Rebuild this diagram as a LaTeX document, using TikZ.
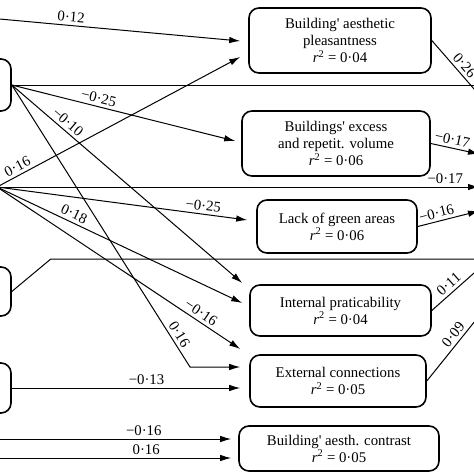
\documentclass[tikz,border=0pt]{standalone}
\usepackage{fontspec}
\newfontfamily\pathfont{Liberation Serif}
\usetikzlibrary{arrows.meta}

\begin{document}
\begin{tikzpicture}[x=1pt,y=-1pt,line width=1pt,>={Latex[length=11pt,width=6.5pt]},
  every node/.style={font=\pathfont\fontsize{14.8}{17}\selectfont},
  var/.style={draw,line width=1.6pt,rounded corners=10pt,align=center,inner sep=0pt},
  coef/.style={sloped,above,inner sep=3pt}]
\useasboundingbox (0,0) rectangle (474,474);
\clip (0,0) rectangle (474,474);

\node[var,minimum width=100,minimum height=52] (p1) at (-39,85) {};
\node[var,minimum width=100,minimum height=49] (p3) at (-39,291.5) {};
\node[var,minimum width=100,minimum height=50] (p4) at (-39,388) {};
\coordinate (p0) at (-6,18.5);
\coordinate (p2) at (-3,187);
\coordinate (q1) at (-5,439);
\coordinate (q2) at (-5,458);

\node[var,minimum width=182,minimum height=65] (b1) at (340,40.5) {Building' aesthetic\\pleasantness\\\textit{r}\textsuperscript{2} = 0·04};
\node[var,minimum width=188,minimum height=65] (b2) at (336,143.5) {Buildings' excess\\and repetit. volume\\\textit{r}\textsuperscript{2} = 0·06};
\node[var,minimum width=160,minimum height=53] (b3) at (337,226.5) {Lack of green areas\\\textit{r}\textsuperscript{2} = 0·06};
\node[var,minimum width=181,minimum height=51] (b4) at (340.5,310.5) {Internal praticability\\\textit{r}\textsuperscript{2} = 0·04};
\node[var,minimum width=176,minimum height=52] (b5) at (338,381) {External connections\\\textit{r}\textsuperscript{2} = 0·05};
\node[var,minimum width=200,minimum height=45] (b6) at (339,448.5) {Building' aesth. contrast\\\textit{r}\textsuperscript{2} = 0·05};

\coordinate (o1) at (495,113);
\coordinate (o2) at (500,85);
\coordinate (o3) at (479,154);
\coordinate (o4) at (479,187);
\coordinate (o5) at (479,211);
\coordinate (o6) at (500,259);
\coordinate (o7) at (500,250);
\coordinate (o8) at (500,290);

\draw[->] (p0) -- node[coef,pos=0.31]{0·12} ([shift={(-8,0.5)}]b1.west);
\draw[->] (p2) -- node[coef,pos=0.1]{0·16} ([shift={(-8,16.5)}]b1.west);
\draw[->] (p1.east) -- (o2);
\draw[->] (p1.east) -- node[coef,pos=0.38]{−0·25} ([shift={(-6,-2.5)}]b2.west);
\draw[->] (p1.east) -- node[coef,pos=0.22]{−0·10} ([shift={(-7,-27.5)}]b4.west);
\draw[->] (p1.east) -- node[coef,pos=0.9]{0·16} (190,367) -- ([shift={(-9,-14)}]b5.west);
\draw[->] (p2) -- node[coef,pos=0.93]{−0·17} (o4);
\draw[->] (p2) -- node[coef,pos=0.82]{−0·25} ([shift={(-9,-6.5)}]b3.west);
\draw[->] (p2) -- node[coef,pos=0.3]{0·18} ([shift={(-7,-7.5)}]b4.west);
\draw[->] (p2) -- node[coef,pos=0.82]{−0·16} ([shift={(-9,-32)}]b5.west);
\draw[->] (p3.east) -- ++(39,-32.5) -- (o6);
\draw[->] (p4.east) -- node[coef,pos=0.59]{−0·13} ([shift={(-9,7)}]b5.west);
\draw[->] (q1) -- node[coef,pos=0.63]{−0·16} ([shift={(-7,-9.5)}]b6.west);
\draw[->] (q2) -- node[coef,pos=0.64]{0·16} ([shift={(-7,9.5)}]b6.west);

\draw[->] (b1.east) -- node[coef,pos=0.42]{0·26} (o1);
\draw[->] (b2.east) -- node[coef,pos=0.41]{−0·17} (o3);
\draw[->] (b3.east) -- node[coef,pos=0.34]{−0·16} (o5);
\draw[->] (b4.east) -- node[coef,pos=0.33]{0·11} (o7);
\draw[->] (b5.east) -- node[coef,pos=0.45]{0·09} (o8);
\end{tikzpicture}
\end{document}
